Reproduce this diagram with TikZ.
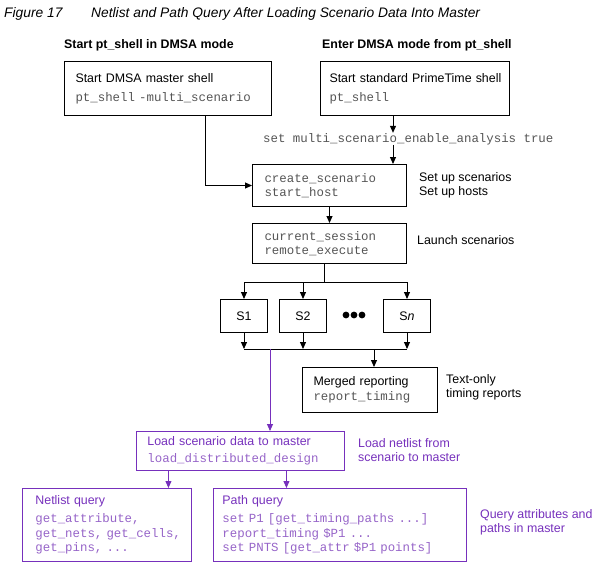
\documentclass[tikz,border=0pt]{standalone}
\usepackage{fontspec}
\setmainfont{Liberation Sans}
\setmonofont{Liberation Mono}
\usetikzlibrary{positioning,arrows.meta}

\definecolor{codegray}{RGB}{85,85,85}
\definecolor{dmsapurple}{RGB}{118,48,188}
\definecolor{codepurple}{RGB}{150,100,200}

\newcommand{\ptfont}{\fontsize{12.4}{14.3}\selectfont}

\begin{document}
\begin{tikzpicture}[
        x=1pt, y=-1pt,
        every node/.style={font=\ptfont},
        stepbox/.style={
            draw,
            line width=1pt,
            anchor=north west,
            align=left,
            inner xsep=11pt,
            inner ysep=0pt
        },
        querybox/.style={
            stepbox,
            draw=dmsapurple,
            text=dmsapurple,
            line width=0.9pt
        },
        sbox/.style={
            draw,
            line width=1pt,
            anchor=north west,
            minimum width=47pt,
            minimum height=33pt,
            inner sep=0pt
        },
        heading/.style={anchor=base west, inner sep=0pt, font=\ptfont\bfseries},
        caption/.style={anchor=base west, inner sep=0pt, font=\fontsize{13.8}{16}\selectfont\itshape},
        note/.style={anchor=west, align=left, inner sep=0pt},
        flow/.style={line width=1pt, -{Triangle[length=7pt,width=6pt]}},
        query/.style={draw=dmsapurple, line width=0.9pt, -{Triangle[length=7pt,width=6pt]}}
    ]
    \useasboundingbox (0,0) rectangle (613,566);

    % title line
    \node[caption] (fignum) at (4,17) {Figure 17};
    \node[caption] (figtitle) at (91,17) {Netlist and Path Query After Loading Scenario Data Into Master};

    % two ways in
    \node[heading] (headA) at (64,48) {Start pt\_shell in DMSA mode};
    \node[heading] (headB) at (322,48) {Enter DMSA mode from pt\_shell};

    \node[stepbox, text width=185pt, minimum height=54pt] (shellA) at (64,61)
        {Start DMSA master shell\\[4.7pt]\ttfamily\color{codegray}pt\_shell -multi\_scenario};
    \node[stepbox, inner xsep=9pt, text width=171pt, minimum height=54pt] (shellB) at (320,61)
        {\mbox{Start standard PrimeTime shell}\\[4.7pt]\ttfamily\color{codegray}pt\_shell};

    \node[anchor=base west, inner sep=0pt, font=\ptfont\ttfamily, text=codegray] (enablecmd) at (263,142)
        {set multi\_scenario\_enable\_analysis true};

    % setup and launch
    \node[stepbox, inner xsep=12pt, text width=130pt, minimum height=42pt, font=\ptfont\ttfamily, text=codegray] (setup) at (252,164)
        {create\_scenario\\start\_host};
    \node[note] (setupnote) at (419,185) {Set up scenarios\\Set up hosts};

    \node[stepbox, inner xsep=12pt, text width=130pt, minimum height=40pt, font=\ptfont\ttfamily, text=codegray] (launch) at (252,223)
        {current\_session\\remote\_execute};
    \node[note] (launchnote) at (417,240) {Launch scenarios};

    % scenarios
    \node[sbox] (s1) at (220,299) {S1};
    \node[sbox] (s2) at (279,299) {S2};
    \node[sbox] (sn) at (383,299) {S\textit{n}};
    \coordinate (dots) at (354,315);
    \foreach \k in {-8,0,8}
        \fill ([xshift=\k pt]dots) circle (3.4pt);

    \node[stepbox, text width=113pt, minimum height=45pt] (merged) at (302,367)
        {Merged reporting\\[1pt]\ttfamily\color{codegray}report\_timing};
    \node[note] (mergenote) at (446,387) {Text-only\\timing reports};

    % loading into master
    \node[querybox, text width=186pt, minimum height=39pt] (load) at (136,431)
        {Load scenario data to master\\[2.5pt]\ttfamily\color{codepurple}load\_distributed\_design};
    \node[note, text=dmsapurple] (loadnote) at (358,450) {Load netlist from\\scenario to master};

    \node[querybox, inner xsep=13pt, text width=143pt, minimum height=73pt] (netlist) at (22,488)
        {Netlist query\\[3.5pt]\ttfamily\color{codepurple}get\_attribute,\\get\_nets,~get\_cells,\\get\_pins,~...};
    \node[querybox, inner xsep=9pt, text width=235pt, minimum height=73pt] (path) at (213,488)
        {Path query\\[3.5pt]\ttfamily\color{codepurple}set P1 [get\_timing\_paths ...]\\report\_timing \$P1 ...\\set PNTS [get\_attr \$P1 points]};
    \node[note, text=dmsapurple] (querynote) at (480,522) {Query attributes and\\paths in master};

    % connectors
    \coordinate (enabletap) at (393,0);
    \coordinate (split) at (0,282);
    \coordinate (join) at (0,349);
    \coordinate (loadtap) at (270,0);
    \coordinate (shellAtap) at ([xshift=37.5pt]shellA.south);
    \coordinate (launchtap) at ([xshift=-5pt]launch.south);
    \coordinate (mergetap) at ([xshift=4pt]merged.north);
    \coordinate (netlisttap) at ([xshift=-72pt]load.south);
    \coordinate (pathtap) at ([xshift=46pt]load.south);

    \draw[flow] (shellAtap) |- (setup.west);
    \draw[flow] (shellB.south -| enabletap) -- (enablecmd.north -| enabletap);
    \draw[flow] (enablecmd.south -| enabletap) -- (setup.north -| enabletap);
    \draw[flow] (setup) -- (launch);

    \draw[line width=1pt] (launchtap) -- (launchtap |- split);
    \draw[line width=1pt] (s1.north |- split) -- (sn.north |- split);
    \draw[line width=1pt] (s1.south |- join) -- (sn.south |- join);
    \foreach \s in {s1,s2,sn} {
        \draw[flow] (\s.north |- split) -- (\s.north);
        \draw[flow] (\s.south) -- (\s.south |- join);
    }
    \draw[flow] (mergetap |- join) -- (mergetap);

    \draw[query] (loadtap |- join) -- (loadtap |- load.north);
    \draw[query] (netlisttap) -- (netlisttap |- netlist.north);
    \draw[query] (pathtap) -- (pathtap |- path.north);
\end{tikzpicture}
\end{document}
